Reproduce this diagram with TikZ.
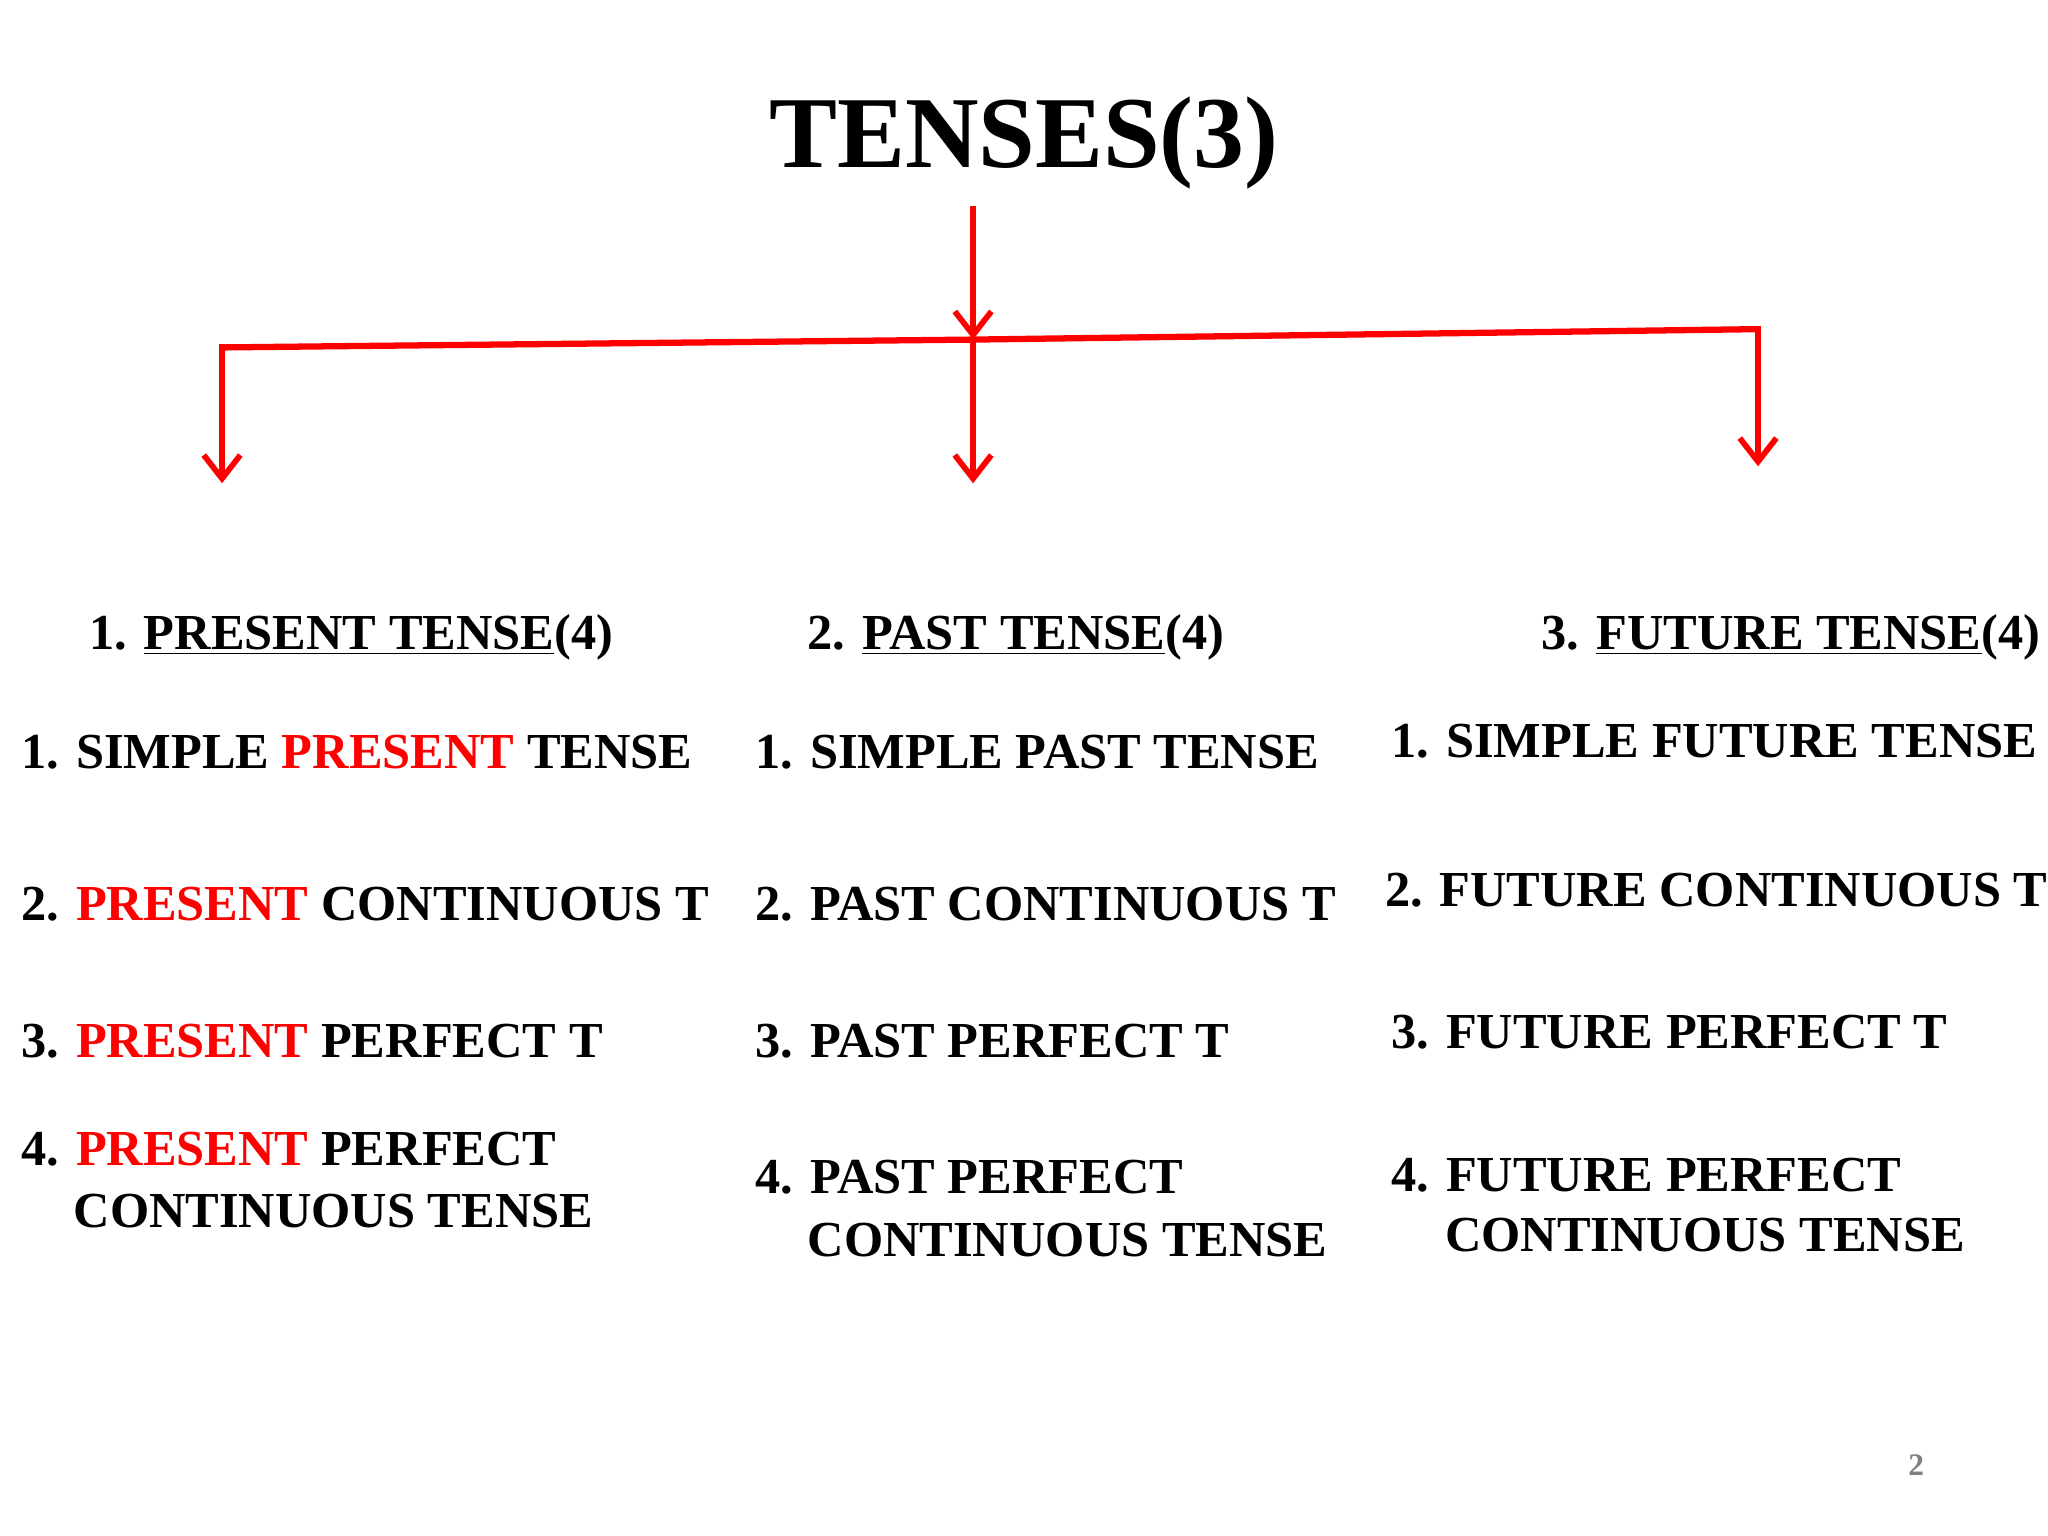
\documentclass[tikz,border=0pt]{standalone}
\usepackage{fontspec}
\setmainfont{Liberation Serif}
\usetikzlibrary{arrows.meta}
\definecolor{tred}{RGB}{255,0,0}
\begin{document}
\begin{tikzpicture}[x={(0.5pt,0)},y={(0,-0.5pt)},
  txt/.style={anchor=base west,inner sep=0pt,font=\fontsize{19.3}{23}\selectfont\bfseries},
  ln/.style={draw=tred,line width=2.4pt},
  arr/.style={ln,-{Straight Barb[length=9pt,width=14pt,line width=2.2pt]}}]
\useasboundingbox (0,0) rectangle (1568,1176);
\clip (0,0) rectangle (1568,1176);
\node[anchor=base,inner sep=0pt,font=\fontsize{39}{44}\selectfont\bfseries] (title) at (784,128) {TENSES(3)};
\coordinate (top) at (745,158);
\coordinate (mid) at (745,260);
\coordinate (L) at (170,266);
\coordinate (R) at (1346,252);
\coordinate (Ld) at (170,370);
\coordinate (Md) at (745,370);
\coordinate (Rd) at (1346,357);
\draw[arr] (top) -- (mid);
\draw[ln] (L) -- (mid) -- (R);
\draw[arr] ([yshift=1.2pt]L) -- (Ld);
\draw[arr] (mid) -- (Md);
\draw[arr] ([yshift=1.2pt]R) -- (Rd);
% headings
\node[txt] (h1) at (68,497) {1. \underline{PRESENT TENSE}(4)};
\node[txt] (h2) at (618,497) {2. \underline{PAST TENSE}(4)};
\node[txt] (h3) at (1180,497) {3. \underline{FUTURE TENSE}(4)};
% left
\node[txt] (a1) at (16,588) {1. SIMPLE \textcolor{tred}{PRESENT} TENSE};
\node[txt] (a2) at (16,705) {2. \textcolor{tred}{PRESENT} CONTINUOUS T};
\node[txt] (a3) at (16,810) {3. \textcolor{tred}{PRESENT} PERFECT T};
\node[txt] (a4) at (16,892) {4. \textcolor{tred}{PRESENT} PERFECT};
\node[txt] (a4b) at (56,940) {CONTINUOUS TENSE};
% middle
\node[txt] (b1) at (578,588) {1. SIMPLE PAST TENSE};
\node[txt] (b2) at (578,705) {2. PAST CONTINUOUS T};
\node[txt] (b3) at (578,810) {3. PAST PERFECT T};
\node[txt] (b4) at (578,914) {4. PAST PERFECT};
\node[txt] (b4b) at (618,962) {CONTINUOUS TENSE};
% right
\node[txt] (c1) at (1065,580) {1. SIMPLE FUTURE TENSE};
\node[txt] (c2) at (1060,694) {2. FUTURE CONTINUOUS T};
\node[txt] (c3) at (1065,803) {3. FUTURE PERFECT T};
\node[txt] (c4) at (1065,912) {4. FUTURE PERFECT};
\node[txt] (c4b) at (1106,958) {CONTINUOUS TENSE};
\node[anchor=base,inner sep=0pt,text=gray,font=\fontsize{12}{13}\selectfont\bfseries] (pg) at (1467,1130) {2};
\end{tikzpicture}
\end{document}
